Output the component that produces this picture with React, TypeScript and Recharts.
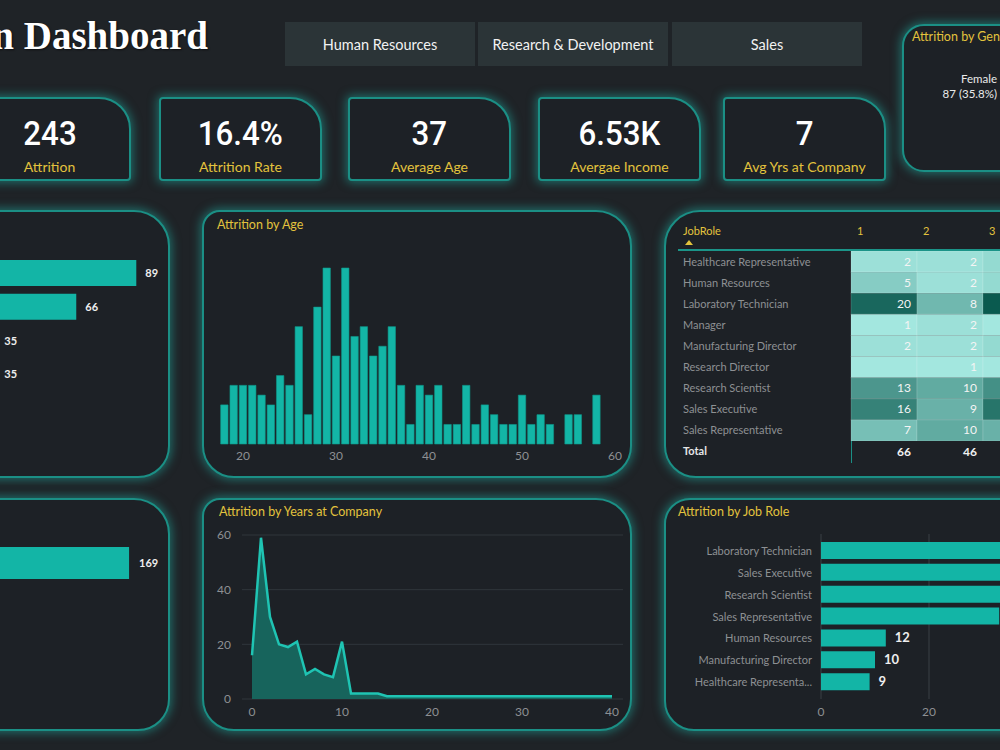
import React from "react";
import {
  BarChart,
  Bar,
  XAxis,
  YAxis,
  CartesianGrid,
  AreaChart,
  Area,
  ScatterChart,
  Scatter,
  LabelList,
} from "recharts";

const BG = "#1f2327";
const PANEL = "#1d2126";
const BAR = "#13b5a6";
const LINE = "#1fc4b3";
const YELLOW = "#e3c33d";
const GREY = "#8d9093";
const FONT = "Lato, 'Noto Sans', sans-serif";

const DEPARTMENTS = ["Human Resources", "Research & Development", "Sales"];

const KPI_VALUES = ["243", "16.4%", "37", "6.53K", "7"];
const KPI_LABELS = ["Attrition", "Attrition Rate", "Average Age", "Avergae Income", "Avg Yrs at Company"];

const GENDERS = ["Female", "Male"];
const GENDER_COUNTS = [87, 156];

const EDU_FIELDS = ["Life Sciences", "Medical", "Marketing", "Technical Degree"];
const EDU_ATTRITION = [89, 66, 35, 35];

const SALARY_SLABS = ["Up to 5k", "5k-10k", "10k-15k", "15k+"];
const SALARY_ATTRITION = [169, 48, 19, 7];

const AGES = [
  18, 19, 20, 21, 22, 23, 24, 25, 26, 27, 28, 29, 30, 31, 32, 33, 34, 35, 36, 37,
  38, 39, 40, 41, 42, 43, 44, 45, 46, 47, 48, 49, 50, 51, 52, 53, 55, 56, 58,
];
const AGE_ATTRITION = [
  4, 6, 6, 6, 5, 4, 7, 6, 12, 3, 14, 18, 9, 18, 11, 12, 9, 10, 12, 6,
  2, 6, 5, 6, 2, 2, 6, 2, 4, 3, 2, 2, 5, 2, 3, 2, 3, 3, 5,
];

const YEARS = [0, 1, 2, 3, 4, 5, 6, 7, 8, 9, 10, 11, 12, 13, 14, 15, 16, 17, 18, 19, 20, 21, 22, 24, 31, 33, 40];
const YEARS_ATTRITION = [16, 59, 30, 20, 19, 21, 9, 11, 9, 8, 21, 2, 2, 2, 2, 1, 1, 1, 1, 1, 1, 1, 1, 1, 1, 1, 1];

const JOB_ROLES = [
  "Laboratory Technician",
  "Sales Executive",
  "Research Scientist",
  "Sales Representative",
  "Human Resources",
  "Manufacturing Director",
  "Healthcare Representative",
];
const JOB_ATTRITION = [62, 57, 47, 33, 12, 10, 9];

const HM_ROLES = [
  "Healthcare Representative",
  "Human Resources",
  "Laboratory Technician",
  "Manager",
  "Manufacturing Director",
  "Research Director",
  "Research Scientist",
  "Sales Executive",
  "Sales Representative",
];
const HM_COLUMNS = ["1", "2", "3"];
const SAT_1 = [2, 5, 20, 1, 2, null, 13, 16, 7];
const SAT_2 = [2, 2, 8, 2, 2, 1, 10, 9, 10];
const SAT_3 = [3, 3, 22, 1, 3, 1, 14, 18, 9];

const eduData = EDU_FIELDS.map((f, i) => ({ name: f, value: EDU_ATTRITION[i] }));
const salaryData = SALARY_SLABS.map((s, i) => ({ name: s, value: SALARY_ATTRITION[i] }));
const ageData = AGES.map((a, i) => ({ age: a, count: AGE_ATTRITION[i] }));
const yearsData = YEARS.map((y, i) => ({ year: y, count: YEARS_ATTRITION[i] }));
const jobData = JOB_ROLES.map((r, i) => ({ role: r, value: JOB_ATTRITION[i] }));

const satCols = [SAT_1, SAT_2, SAT_3];
const heatData = HM_ROLES.flatMap((_, r) =>
  satCols.map((col, c) => ({ row: r, col: c + 1, v: col[r] }))
);
const colTotals = satCols.map((col) => col.reduce((s: number, v) => s + (v || 0), 0));

const CELL_W = 66;
const CELL_H = 190 / 9;

function heatColor(v: number | null) {
  const light = [163, 231, 223];
  const dark = [10, 90, 79];
  const t = v == null ? 0 : Math.min(1, Math.max(0, (v - 1) / 21));
  const c = light.map((l, i) => Math.round(l + (dark[i] - l) * t));
  return `rgb(${c[0]},${c[1]},${c[2]})`;
}

const HeatCell = (props: any) => {
  const { cx, cy, payload } = props;
  return (
    <g>
      <rect
        x={cx - CELL_W / 2}
        y={cy - CELL_H / 2}
        width={CELL_W}
        height={CELL_H}
        fill={heatColor(payload.v)}
        stroke="rgba(255,255,255,0.14)"
        strokeWidth={1}
      />
      {payload.v != null && (
        <text
          x={cx + CELL_W / 2 - 6}
          y={cy + 4}
          textAnchor="end"
          fill="#f4f4f4"
          fontSize={12}
          fontFamily={FONT}
        >
          {payload.v}
        </text>
      )}
    </g>
  );
};

const RoleTick = (props: any) => {
  const { y, payload } = props;
  return (
    <text x={0} y={y} dy={4} fill={GREY} fontSize={11} fontFamily={FONT} textAnchor="start">
      {HM_ROLES[payload.value]}
    </text>
  );
};

// power bi style truncation of long category names
const JobTick = (props: any) => {
  const { x, y, payload } = props;
  const s: string = payload.value;
  const label = s.length > 22 ? s.slice(0, 21) + "..." : s;
  return (
    <text x={x} y={y} dy={4} fill={GREY} fontSize={11} fontFamily={FONT} textAnchor="end">
      {label}
    </text>
  );
};

// value labels to the right of a bar, skipped when they'd fall off the page
const BarValue = (props: any) => {
  const { x, y, width, height, value, gap, size } = props;
  const lx = x + width + gap;
  if (lx < 0) return null;
  return (
    <text x={lx} y={y + height / 2} dy={4} fill="#eeeeee" fontSize={size} fontWeight={700} fontFamily={FONT}>
      {value}
    </text>
  );
};

const glow = {
  position: "absolute" as const,
  boxSizing: "border-box" as const,
  background: PANEL,
  border: "2px solid #1b8f85",
  boxShadow: "0 0 10px 2px rgba(32,178,165,0.5)",
};

const abs = (left: number, top: number, width: number, height: number) => ({
  position: "absolute" as const,
  left,
  top,
  width,
  height,
});

const titleStyle = (left: number, top: number) => ({
  position: "absolute" as const,
  left,
  top,
  color: YELLOW,
  fontFamily: FONT,
  fontSize: 12.5,
  whiteSpace: "nowrap" as const,
});

const axisTick = { fill: GREY, fontSize: 12, fontFamily: FONT };

export default function App() {
  const kpiLefts = [-32, 159, 348, 538, 723];
  const btnLefts = [285, 478, 672];
  const femaleShare = ((GENDER_COUNTS[0] / (GENDER_COUNTS[0] + GENDER_COUNTS[1])) * 100).toFixed(1);

  return (
    <div style={{ position: "fixed", left: 0, top: 0, width: 1000, height: 750, overflow: "hidden", background: BG }}>
      {/* title, cut off at the left edge */}
      <div
        style={{
          position: "absolute",
          right: 1000 - 208,
          top: 13,
          color: "#fff",
          fontFamily: "'Liberation Serif', serif",
          fontWeight: 700,
          fontSize: 39,
          whiteSpace: "nowrap",
          textShadow: "1px 1px 2px rgba(0,0,0,0.6)",
        }}
      >
        HR Attrition Dashboard
      </div>

      {/* department slicer */}
      {DEPARTMENTS.map((d, i) => (
        <div
          key={d}
          style={{
            ...abs(btnLefts[i], 22, 190, 44),
            background: "#2b3437",
            color: "#f2f2f2",
            fontFamily: FONT,
            fontSize: 14.5,
            display: "flex",
            alignItems: "center",
            justifyContent: "center",
          }}
        >
          {d}
        </div>
      ))}

      {/* KPI cards */}
      {KPI_VALUES.map((v, i) => (
        <div key={KPI_LABELS[i]} style={{ ...glow, ...abs(kpiLefts[i], 97, 163, 84), borderRadius: "4px 32px 4px 4px" }}>
          <div
            style={{
              position: "absolute",
              left: 0,
              right: 0,
              top: 14,
              textAlign: "center",
              color: "#fff",
              fontFamily: "Roboto, sans-serif",
              fontWeight: 500,
              fontSize: 34,
              lineHeight: "40px",
            }}
          >
            <span style={{ display: "inline-block", transform: "scaleX(0.92)" }}>{v}</span>
          </div>
          <div
            style={{
              position: "absolute",
              left: 0,
              right: 0,
              top: 59,
              textAlign: "center",
              color: YELLOW,
              fontFamily: FONT,
              fontSize: 14,
              lineHeight: "18px",
            }}
          >
            {KPI_LABELS[i]}
          </div>
        </div>
      ))}

      {/* gender panel */}
      <div style={{ ...glow, ...abs(902, 24, 200, 148), borderRadius: "22px 0 0 22px" }} />
      <div style={titleStyle(912, 29)}>Attrition by Gender</div>
      <div
        style={{
          position: "absolute",
          right: 3,
          top: 71,
          textAlign: "right",
          color: "#eaeaea",
          fontFamily: FONT,
          fontSize: 11.5,
          lineHeight: "15px",
        }}
      >
        {GENDERS[0]}
        <br />
        {GENDER_COUNTS[0]} ({femaleShare}%)
      </div>

      {/* panels */}
      <div style={{ ...glow, ...abs(-262, 210, 432, 268), borderRadius: "22px 36px 32px 32px" }} />
      <div style={{ ...glow, ...abs(202, 210, 430, 268), borderRadius: "18px 36px 32px 32px" }} />
      <div style={{ ...glow, ...abs(664, 210, 420, 268), borderRadius: "36px 22px 22px 32px" }} />
      <div style={{ ...glow, ...abs(-262, 498, 432, 233), borderRadius: "22px 36px 32px 32px" }} />
      <div style={{ ...glow, ...abs(202, 498, 430, 233), borderRadius: "18px 36px 32px 32px" }} />
      <div style={{ ...glow, ...abs(664, 498, 420, 233), borderRadius: "26px 22px 22px 30px" }} />

      {/* education field bars (left part off screen) */}
      <div style={abs(-96, 256, 300, 135)}>
        <BarChart width={300} height={135} data={eduData} layout="vertical" margin={{ top: 0, right: 39, bottom: 0, left: 0 }}>
          <XAxis type="number" hide domain={[0, 100]} />
          <YAxis type="category" dataKey="name" hide />
          <Bar dataKey="value" fill={BAR} barSize={26} isAnimationActive={false}>
            <LabelList dataKey="value" content={<BarValue gap={9} size={11} />} />
          </Bar>
        </BarChart>
      </div>

      {/* salary slab bars (left part off screen) */}
      <div style={abs(-200, 540, 400, 180)}>
        <BarChart width={400} height={180} data={salaryData} layout="vertical" margin={{ top: 0, right: 49.5, bottom: 0, left: 0 }}>
          <XAxis type="number" hide domain={[0, 180]} />
          <YAxis type="category" dataKey="name" hide />
          <Bar dataKey="value" fill={BAR} barSize={32} isAnimationActive={false}>
            <LabelList dataKey="value" content={<BarValue gap={10} size={11} />} />
          </Bar>
        </BarChart>
      </div>

      {/* attrition by age */}
      <div style={titleStyle(217, 217)}>Attrition by Age</div>
      <div style={abs(205, 250, 425, 220)}>
        <BarChart width={425} height={220} data={ageData} margin={{ top: 18, right: 15, bottom: 0, left: 10 }}>
          <XAxis
            dataKey="age"
            type="number"
            domain={[17, 60]}
            ticks={[20, 30, 40, 50, 60]}
            axisLine={false}
            tickLine={false}
            tickSize={0}
            tickMargin={7}
            height={26}
            tick={axisTick}
          />
          <YAxis hide domain={[0, 18]} />
          <Bar dataKey="count" fill={BAR} stroke="#0f978a" strokeWidth={0.6} barSize={7.4} isAnimationActive={false} />
        </BarChart>
      </div>

      {/* heatmap: job role by satisfaction */}
      <div style={{ ...titleStyle(683, 224), fontSize: 11 }}>JobRole</div>
      <svg style={{ position: "absolute", left: 685, top: 240 }} width={10} height={6}>
        <polygon points="0,5 4,0 8,5" fill={YELLOW} />
      </svg>
      {HM_COLUMNS.map((c, i) => (
        <div key={c} style={{ ...titleStyle(857 + i * CELL_W, 224), fontSize: 11 }}>
          {c}
        </div>
      ))}
      <div style={{ ...abs(678, 249, 330, 2), background: "#1b9488" }} />
      <div style={abs(683, 251, 366, 190)}>
        <ScatterChart width={366} height={190} margin={{ top: 0, right: 0, bottom: 0, left: 0 }}>
          <XAxis type="number" dataKey="col" domain={[0.5, 3.5]} hide />
          <YAxis
            type="number"
            dataKey="row"
            domain={[-0.5, 8.5]}
            reversed
            ticks={[0, 1, 2, 3, 4, 5, 6, 7, 8]}
            interval={0}
            width={168}
            axisLine={false}
            tickLine={false}
            tick={<RoleTick />}
          />
          <Scatter data={heatData} shape={<HeatCell />} isAnimationActive={false} />
        </ScatterChart>
      </div>
      <div style={{ ...abs(851, 441, 1, 22), background: "#1b8f85" }} />
      <div style={{ position: "absolute", left: 683, top: 444, color: "#e6e6e6", fontFamily: FONT, fontSize: 11, fontWeight: 700 }}>
        Total
      </div>
      {colTotals.map((t, i) => (
        <div
          key={i}
          style={{
            position: "absolute",
            left: 851 + i * CELL_W,
            width: CELL_W - 6,
            top: 444,
            textAlign: "right",
            color: "#f0f0f0",
            fontFamily: FONT,
            fontSize: 12,
            fontWeight: 700,
          }}
        >
          {t}
        </div>
      ))}

      {/* attrition by years at company */}
      <div style={titleStyle(219, 504)}>Attrition by Years at Company</div>
      <div style={abs(205, 525, 425, 200)}>
        <AreaChart width={425} height={200} data={yearsData} margin={{ top: 10, right: 7, bottom: 0, left: 0 }}>
          <CartesianGrid vertical={false} stroke="#30363b" />
          <XAxis
            dataKey="year"
            type="number"
            domain={[0, 40]}
            ticks={[0, 10, 20, 30, 40]}
            padding={{ left: 10, right: 11 }}
            axisLine={false}
            tickLine={false}
            tickSize={0}
            tickMargin={8}
            height={26}
            tick={axisTick}
          />
          <YAxis
            domain={[0, 60]}
            ticks={[0, 20, 40, 60]}
            width={37}
            axisLine={false}
            tickLine={false}
            tickSize={0}
            tickMargin={11}
            tick={axisTick}
          />
          <Area
            type="linear"
            dataKey="count"
            stroke={LINE}
            strokeWidth={2.5}
            fill="#17645c"
            fillOpacity={1}
            dot={false}
            activeDot={false}
            isAnimationActive={false}
          />
        </AreaChart>
      </div>

      {/* attrition by job role */}
      <div style={titleStyle(678, 504)}>Attrition by Job Role</div>
      <div style={abs(666, 525, 553, 200)}>
        <BarChart width={553} height={200} data={jobData} layout="vertical" margin={{ top: 9, right: 20, bottom: 0, left: 0 }}>
          <CartesianGrid horizontal={false} stroke="#3a4045" />
          <XAxis
            type="number"
            domain={[0, 70]}
            ticks={[0, 20, 40, 60]}
            axisLine={false}
            tickLine={false}
            tickSize={0}
            tickMargin={8}
            height={26}
            tick={axisTick}
          />
          <YAxis
            type="category"
            dataKey="role"
            width={155}
            padding={{ top: 6, bottom: 6 }}
            axisLine={false}
            tickLine={false}
            tickSize={0}
            tickMargin={9}
            interval={0}
            tick={<JobTick />}
          />
          <Bar dataKey="value" fill={BAR} barSize={17} isAnimationActive={false}>
            <LabelList dataKey="value" content={<BarValue gap={9} size={13} />} />
          </Bar>
        </BarChart>
      </div>
    </div>
  );
}
